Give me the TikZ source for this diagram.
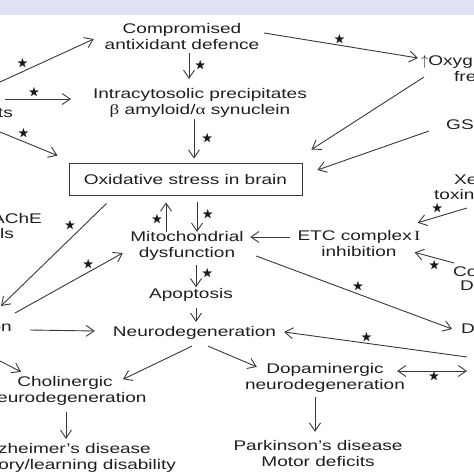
\documentclass[tikz,border=0pt]{standalone}
\usepackage{amssymb}
\usepackage{fontspec}
\setmainfont{Liberation Sans}[FakeStretch=1.36]
\newfontfamily\symbfont{Liberation Serif}[FakeStretch=1.36]
\usetikzlibrary{arrows.meta}
\definecolor{bandcol}{RGB}{222,226,242}

\begin{document}
\begin{tikzpicture}[x=1pt, y=-1pt, font=\fontsize{14}{16}\selectfont,
  >={Straight Barb[length=8pt, width=11pt]},
  txt/.style={inner sep=1pt, align=center, text=black!88},
  arr/.style={->, line width=0.9pt, black!78},
  st/.style={inner sep=0pt, font=\fontsize{11.5}{11.5}\selectfont, text=black!90}]

\useasboundingbox (0,0) rectangle (474,474);
\clip (0,0) rectangle (474,474);
\fill[bandcol] (0,0) rectangle (474,15);

\node[txt] (comp) at (182,36) {Compromised\\antixidant defence};
\node[txt] (intra) at (200,103) {Intracytosolic precipitates\\{\symbfont β} amyloid/{\symbfont α} synuclein};
\node[draw, line width=0.9pt, black!78, text=black!88, minimum width=233pt, minimum height=32pt] (box) at (185.5,179) {Oxidative stress in brain};
\node[txt] (mito) at (187,246) {Mitochondrial\\dysfunction};
\node[txt] (apop) at (191,295) {Apoptosis};
\node[txt] (neuro) at (194.5,333) {Neurodegeneration};
\node[txt] (chol) at (65,391) {Cholinergic\\Neurodegeneration};
\node[txt] (alz) at (66,458) {Alzheimer's disease\\Memory/learning disability};
\node[txt] (dopa) at (325,378) {Dopaminergic\\neurodegeneration};
\node[txt] (park) at (318,453) {Parkinson's disease\\Motor deficits};
\node[txt] (etc) at (359,243) {ETC complex\,{\symbfont I}\\inhibition};

% cut at the edges
\node[txt, anchor=west] (oxy) at (420,62) {$\uparrow$Oxyg};
\node[txt, anchor=west] (fre) at (453,77) {fre};
\node[txt, anchor=west] (gs) at (445,125) {GS};
\node[txt, anchor=west] (xe) at (453,180) {Xe};
\node[txt, anchor=west] (tox) at (433,194) {toxin};
\node[txt, anchor=west] (co) at (452,272) {Co};
\node[txt, anchor=west] (dd) at (459,286) {D};
\node[txt, anchor=west] (dn) at (460,329) {D};
\node[txt, anchor=east] (ts) at (14,113) {ts};
\node[txt, anchor=east] (ache) at (43,218) {AChE};
\node[txt, anchor=east] (els) at (15,233) {els};
\node[txt, anchor=east] (on) at (13,328) {on};

\coordinate (l1) at (0,82);
\coordinate (l2) at (5,99);
\coordinate (l3) at (0,132);
\coordinate (l4) at (1,306);
\coordinate (l5) at (15,313);
\coordinate (l6) at (0,361);
\coordinate (r1) at (467,357);
\coordinate (r2) at (467,371);

\draw[arr] (l1) -- node[st, pos=.24, above=2pt] {$\bigstar$} ([xshift=-9.7pt, yshift=-3pt]comp.west);
\draw[arr] ([xshift=7pt, yshift=-3pt]comp.south) -- node[st, right=5.5pt] {$\bigstar$} ([xshift=-11pt, yshift=8.4pt]intra.north);
\draw[arr] (l2) -- node[st, pos=.44, above=0.5pt] {$\bigstar$} ([xshift=-21pt, yshift=4pt]intra.west);
\draw[arr] (l3) -- node[st, pos=.41, above=2pt] {$\bigstar$} ([xshift=-11pt, yshift=7pt]box.north west);
\draw[arr] ([xshift=3.7pt, yshift=3pt]comp.east) -- node[st, pos=.49, above=0.5pt] {$\bigstar$} ([xshift=-2pt, yshift=4pt]oxy.west);
\draw[arr] ([xshift=-6pt]intra.south) -- node[st, right=7.5pt] {$\bigstar$} ([xshift=8.5pt, yshift=4pt]box.north);
\draw[arr] ([xshift=4pt, yshift=-15pt]oxy.west) -- ([xshift=9pt, yshift=13pt]box.north east);
\draw[arr] ([xshift=-16pt, yshift=-6pt]gs.west) -- ([xshift=15pt, yshift=9pt]box.east);
\draw[arr] ([xshift=38pt, yshift=-8pt]box.south west) -- node[st, pos=.28, above left=1pt] {$\bigstar$} (l4);
\draw[arr] (l5) -- node[st, pos=.68, above=2pt] {$\bigstar$} ([xshift=-6.4pt, yshift=-7pt]mito.west);

\draw[arr] ([xshift=-21pt, yshift=-1.6pt]mito.north) -- node[st, pos=.4, left=3pt] {$\bigstar$} ([xshift=-19.5pt, yshift=-7pt]box.south);
\draw[arr] ([xshift=11.5pt, yshift=-7pt]box.south) -- node[st, pos=.43, right=5pt] {$\bigstar$} ([xshift=10pt, yshift=-1.6pt]mito.north);
\draw[arr] ([xshift=9pt, yshift=-3.4pt]mito.south) -- node[st, pos=.4, right=5.5pt] {$\bigstar$} ([xshift=5pt]apop.north);
\draw[arr] ([xshift=5pt, yshift=-5.4pt]apop.south) -- ([xshift=1.5pt, yshift=3.4pt]neuro.north);
\draw[arr] ([xshift=17pt, yshift=-2pt]on.east) -- ([xshift=-17pt, yshift=2pt]neuro.west);

\draw[arr] (l6) -- ([xshift=-44pt, yshift=3.4pt]chol.north);
\draw[arr] ([xshift=-2.5pt, yshift=-5.4pt]neuro.south) -- ([xshift=58pt, yshift=-4pt]chol.north);
\draw[arr] ([xshift=13.5pt, yshift=-5.4pt]neuro.south) -- ([xshift=13pt, yshift=-4.6pt]dopa.north west);
\draw[arr] ([xshift=1pt, yshift=-5.4pt]chol.south) -- ([yshift=3.4pt]alz.north);
\draw[arr] ([xshift=-10pt, yshift=-3.4pt]dopa.south) -- ([xshift=-3pt, yshift=6.9pt]park.north);

\draw[arr] ([xshift=11.4pt, yshift=-10pt]mito.east) -- node[st, pos=.52, above=1.5pt] {$\bigstar$} ([xshift=-8pt]dn.west);
\draw[arr] ([xshift=-6pt, yshift=6pt]etc.west) -- ([xshift=5.4pt, yshift=9pt]mito.east);
\draw[arr] ([xshift=34pt, yshift=-14pt]tox.west) -- node[st, pos=.6, above=2.5pt] {$\bigstar$} ([xshift=-4pt, yshift=5.9pt]etc.north east);
\draw[arr] ([xshift=2pt, yshift=9pt]co.west) -- node[st, pos=.5, below=2.5pt] {$\bigstar$} ([xshift=-7pt, yshift=5pt]etc.south east);
\draw[arr] (r1) -- node[st, pos=.55, above=0pt] {$\bigstar$} ([xshift=7pt, yshift=1pt]neuro.east);
\draw[arr, <->] ([xshift=-9pt, yshift=7pt]dopa.east) -- node[st, pos=.53, below=0.5pt] {$\bigstar$} (r2);

\end{tikzpicture}
\end{document}
